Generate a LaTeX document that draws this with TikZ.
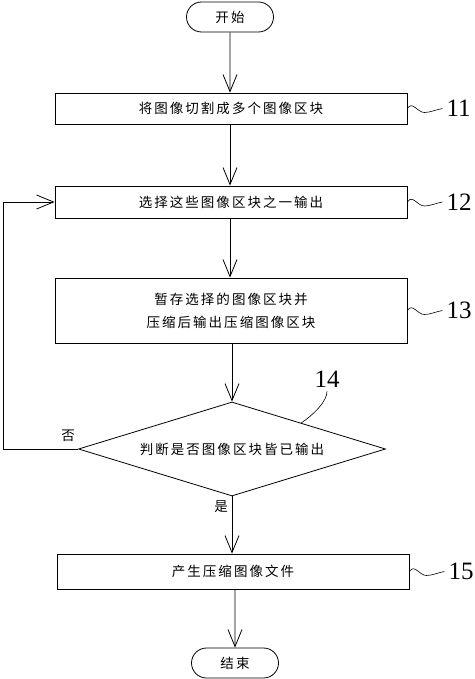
\documentclass[tikz,border=0pt]{standalone}
\usepackage{fontspec}
\setmainfont{Liberation Serif}
\newfontfamily\cjk[LetterSpace=15]{Noto Sans CJK SC}
\usetikzlibrary{positioning,shapes.geometric,shapes.misc,arrows.meta,calc}
\begin{document}
\begin{tikzpicture}[x=1pt, y=-1pt,
    flow/.style={-{Straight Barb[length=17pt,width=14pt]}, line width=0.8pt},
    stepbox/.style={draw, line width=0.8pt, minimum width=352pt, inner sep=0pt,
        align=center, font=\cjk\fontsize{13.5}{23}\selectfont},
    pill/.style={draw, rounded rectangle, line width=0.8pt, minimum width=87pt,
        minimum height=30pt, inner sep=0pt, font=\cjk\fontsize{13.5}{16}\selectfont},
    decision/.style={draw, diamond, aspect=3.27, line width=0.8pt, minimum width=307pt,
        minimum height=94pt, inner sep=0pt, font=\cjk\fontsize{13.5}{16}\selectfont},
    answer/.style={inner sep=1pt, font=\cjk\fontsize{13.5}{16}\selectfont},
    refnum/.style={inner sep=4pt, anchor=west, font=\fontsize{25}{25}\selectfont},
    tilde/.style={line width=0.6pt}]
    \useasboundingbox (0,0) rectangle (474,679);
    % main column
    \node[pill] (start) at (230,17) {开始};
    \node[stepbox, minimum height=31pt] (b11) at (231,108.5) {将图像切割成多个图像区块};
    \node[stepbox, minimum height=32pt] (b12) at (231,202) {选择这些图像区块之一输出};
    \node[stepbox, minimum height=65pt] (b13) at (231,310.5) {暂存选择的图像区块并\\压缩后输出压缩图像区块};
    \node[decision] (dia) at (232,449) {判断是否图像区块皆已输出};
    \node[stepbox, minimum height=35pt] (b15) at (233,571.5) {产生压缩图像文件};
    \node[pill] (end) at (235,663) {结束};
    \draw[flow] (start) -- (b11.north -| start);
    \draw[flow] (b11.south -| start) -- (b12.north -| start);
    \draw[flow] (b12.south -| start) -- (b13.north -| start);
    \draw[flow] (b13.south -| dia) -- (dia.north);
    \draw[flow] (dia.south) -- (b15.north -| dia);
    \draw[flow] (b15.south -| end) -- (end);
    % loop back
    \coordinate (corner) at (3,449);
    \draw[flow] (dia.west) -- (corner) |- (b12.west);
    \node[answer] (no) at (68,436) {否};
    \node[answer] (yes) at (221,507) {是};
    % reference numerals
    \foreach \b/\n in {b11/11, b12/12, b13/13, b15/15} {
        \node[refnum] (n\n) at ($(\b.east)+(35,0)$) {\n};
        \draw[tilde] (\b.east) .. controls +(5,-8) and +(-7,0) .. ++(17,4)
            .. controls +(6,0) and +(-6,1) .. (n\n.west);
    }
    \node[refnum, anchor=center] (n14) at (327,379) {14};
    \coordinate (d14) at ($(dia.north)!0.45!(dia.east)$);
    \draw[tilde] (d14) .. controls +(12,-8) and +(0,10) .. (n14.south);
\end{tikzpicture}
\end{document}
